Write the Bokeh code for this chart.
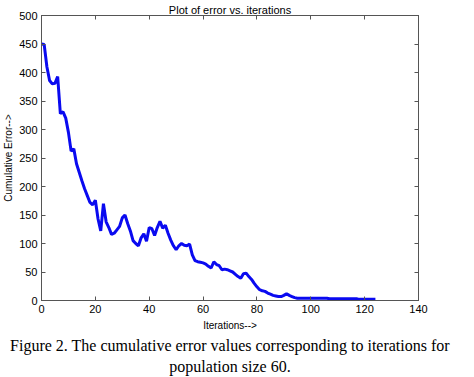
from bokeh.plotting import figure
from bokeh.models import LinearAxis, Title, FixedTicker, Range1d
from bokeh.embed import file_html
from bokeh.resources import INLINE

iterations = list(range(125))
errors = [
    450, 449, 410, 386, 380, 381, 393, 328, 331, 320,
    295, 262, 266, 240, 225, 210, 196, 184, 172, 168,
    176, 143, 122, 170, 138, 128, 116, 118, 124, 130,
    145, 150, 135, 122, 105, 100, 96, 110, 117, 104,
    128, 126, 114, 128, 139, 127, 132, 118, 106, 96,
    89, 96, 100, 97, 96, 99, 80, 70, 68, 67,
    66, 64, 60, 57, 68, 63, 61, 54, 55, 54,
    52, 50, 46, 42, 39, 47, 48, 42, 37, 30,
    24, 19, 17, 16, 13, 11, 9, 8, 7, 7,
    9, 12, 9, 7, 5, 4, 4, 4, 4, 4,
    4, 4, 4, 4, 4, 4, 4, 3, 3, 3,
    3, 3, 3, 3, 3, 3, 3, 3, 2, 2,
    2, 2, 2, 2, 2,
]
x_ticks = [0, 20, 40, 60, 80, 100, 120, 140]
y_ticks = [0, 50, 100, 150, 200, 250, 300, 350, 400, 450, 500]

title_text = "Plot of error vs. iterations"
x_label = "Iterations-->"
y_label = "Cumulative Error-->"
caption1 = "Figure 2. The cumulative error values corresponding to iterations for"
caption2 = "population size 60."

p = figure(width=474, height=377, output_backend="svg", toolbar_location=None,
           x_range=Range1d(0, 140), y_range=Range1d(0, 500),
           min_border_left=40, min_border_right=56, min_border_top=15, min_border_bottom=77)
p.xgrid.visible = False
p.ygrid.visible = False
p.outline_line_color = "#555555"
p.outline_line_width = 1
p.background_fill_color = "white"
p.border_fill_color = "white"

p.title.text = title_text
p.title.align = "center"
p.title.text_font = "Liberation Sans"
p.title.text_font_size = "11px"
p.title.text_font_style = "normal"
p.title.text_color = "black"
p.title.standoff = 0

p.line(iterations, errors, line_color="#0a0af0", line_width=3)

font = "Liberation Sans"
for ax in [p.xaxis[0], p.yaxis[0]]:
    ax.axis_line_color = "#555555"
    ax.major_tick_line_color = "#555555"
    ax.major_tick_in = 4
    ax.major_tick_out = 0
    ax.minor_tick_line_color = None
    ax.major_label_text_font = font
    ax.major_label_text_font_size = "11px"
    ax.major_label_text_color = "black"
    ax.axis_label_text_font = font
    ax.axis_label_text_font_size = "10px"
    ax.axis_label_text_font_style = "normal"
    ax.axis_label_text_color = "black"

p.xaxis[0].ticker = FixedTicker(ticks=x_ticks)
p.yaxis[0].ticker = FixedTicker(ticks=y_ticks)
p.xaxis[0].major_label_standoff = 4
p.yaxis[0].major_label_standoff = 4
p.xaxis[0].axis_label = x_label
p.yaxis[0].axis_label = y_label
p.xaxis[0].axis_label_standoff = 4
p.yaxis[0].axis_label_standoff = 2

for side in ["above", "right"]:
    ax = LinearAxis(ticker=FixedTicker(ticks=x_ticks if side == "above" else y_ticks))
    ax.major_label_text_font_size = "0px"
    ax.major_label_text_color = None
    ax.axis_line_color = "#555555"
    ax.major_tick_line_color = "#555555"
    ax.major_tick_in = 4
    ax.major_tick_out = 0
    ax.minor_tick_line_color = None
    ax.major_label_standoff = 0
    p.add_layout(ax, side)

for cap, so in [(caption1, 3), (caption2, 1)]:
    t = Title(text=cap, align="center", text_font="Liberation Serif", text_font_size="16px",
              text_font_style="normal", text_color="black", standoff=so)
    p.add_layout(t, "below")

open("out.html", "w").write(file_html(p, INLINE))
